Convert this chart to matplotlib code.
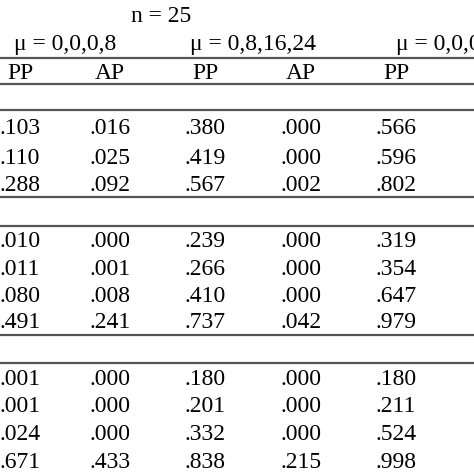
import matplotlib
matplotlib.use("Agg")
import matplotlib.pyplot as plt

plt.rcParams["font.family"] = ["Liberation Serif", "DejaVu Serif"]

col_x = [20, 110, 205, 301, 396]
col_heads = ["PP", "AP", "PP", "AP", "PP"]
group_labels = ["μ = 0,0,0,8", "μ = 0,8,16,24", "μ = 0,0,0,8"]
group_x = [65, 253, 396]

block1 = [[".103", ".016", ".380", ".000", ".566"],
          [".110", ".025", ".419", ".000", ".596"],
          [".288", ".092", ".567", ".002", ".802"]]
block2 = [[".010", ".000", ".239", ".000", ".319"],
          [".011", ".001", ".266", ".000", ".354"],
          [".080", ".008", ".410", ".000", ".647"],
          [".491", ".241", ".737", ".042", ".979"]]
block3 = [[".001", ".000", ".180", ".000", ".180"],
          [".001", ".000", ".201", ".000", ".211"],
          [".024", ".000", ".332", ".000", ".524"],
          [".671", ".433", ".838", ".215", ".998"]]
row_y = [[126, 156, 183], [239, 267, 294, 320], [377, 404, 432, 460]]
rules = [58, 84, 110, 197, 226, 335, 363]

fig = plt.figure(figsize=(4.74, 4.74), dpi=100)
ax = fig.add_axes([0, 0, 1, 1])
ax.set_xlim(0, 474)
ax.set_ylim(474, 0)
ax.axis("off")

fs = 17
va = "center_baseline"
ax.text(161, 14, "n = 25", ha="center", va=va, fontsize=fs)
for i, (lab, gx) in enumerate(zip(group_labels, group_x)):
    ax.text(gx, 42, lab, ha="left" if i == 2 else "center", va=va, fontsize=fs)
for cx, h in zip(col_x, col_heads):
    ax.text(cx, 71, h, ha="center", va=va, fontsize=fs)
for y in rules:
    ax.axhline(y, color="#555555", lw=1.6)
for block, ys in zip([block1, block2, block3], row_y):
    for row, y in zip(block, ys):
        for cx, v in zip(col_x, row):
            ax.text(cx, y, v, ha="center", va=va, fontsize=fs)

fig.savefig("out.png", dpi=100, facecolor="white")
